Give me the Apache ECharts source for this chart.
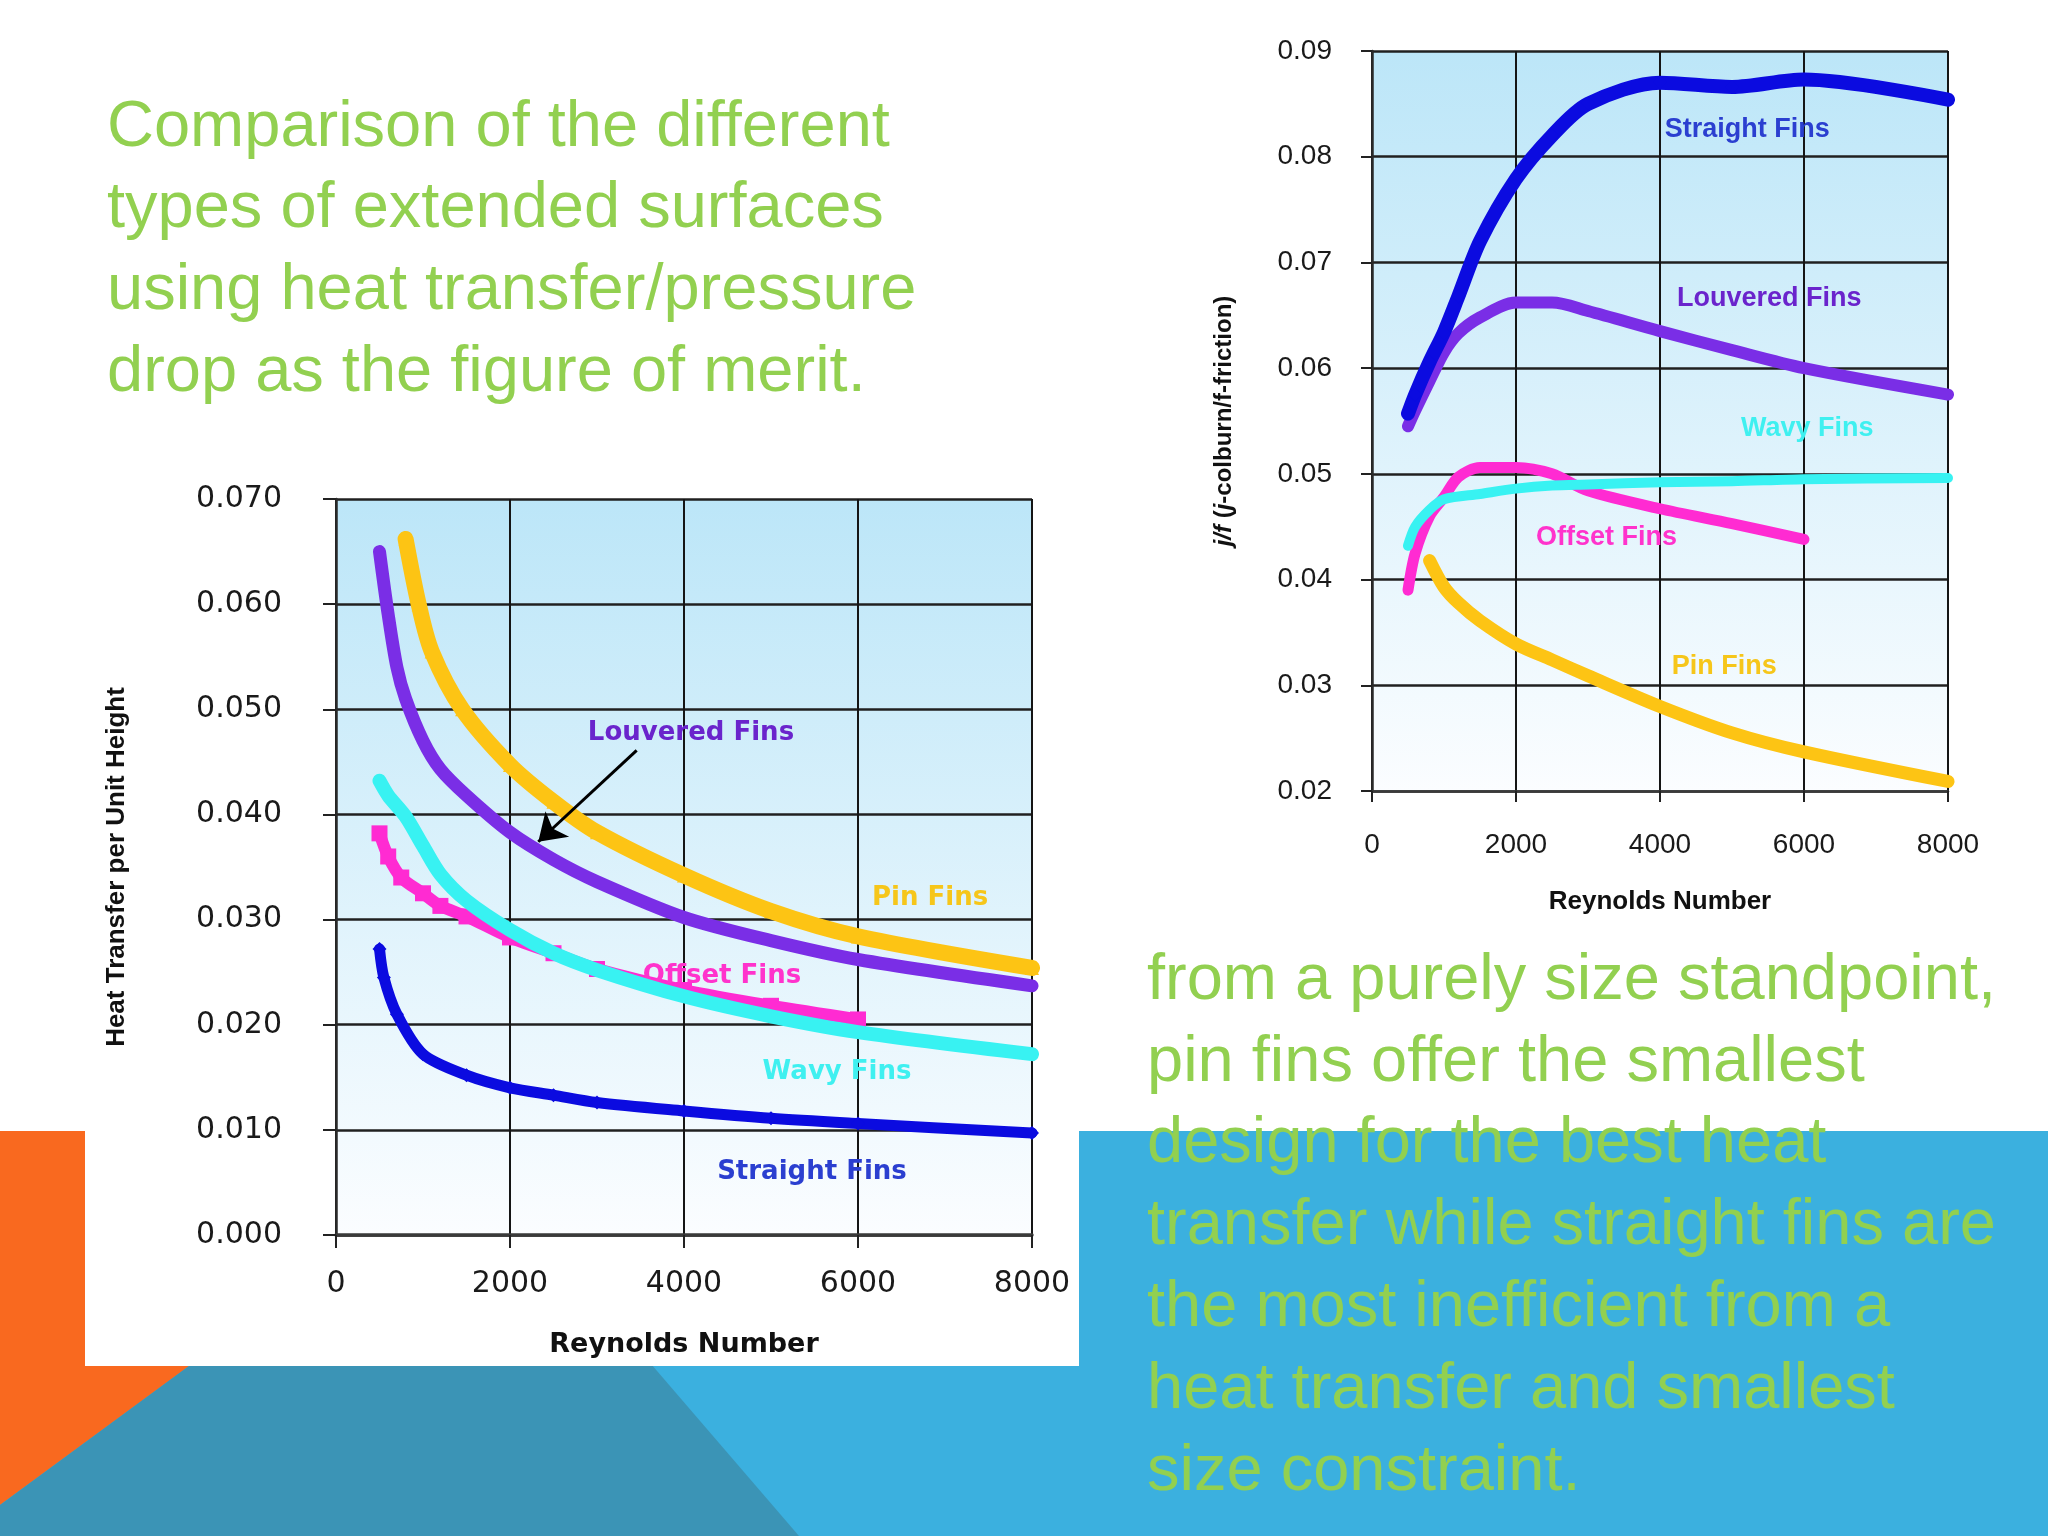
<!DOCTYPE html>
<html>
<head>
<meta charset="utf-8">
<script src="https://cdn.jsdelivr.net/npm/echarts@6/dist/echarts.min.js"></script>
<style>
html,body{margin:0;padding:0;background:#ffffff;}
#chart{width:2048px;height:1536px;}
</style>
</head>
<body>
<div id="chart"></div>
<script>
// ---------- DATA ----------
const reynoldsTicks = [0, 2000, 4000, 6000, 8000];
const leftYTicks = [0, 0.01, 0.02, 0.03, 0.04, 0.05, 0.06, 0.07];
const rightYTicks = [0.02, 0.03, 0.04, 0.05, 0.06, 0.07, 0.08, 0.09];
const seriesNames = ['Straight Fins', 'Louvered Fins', 'Wavy Fins', 'Offset Fins', 'Pin Fins'];

// Left chart: Heat Transfer per Unit Height vs Reynolds Number
const htStraightX = [500, 550, 700, 1000, 1500, 2000, 2500, 3000, 4000, 5000, 6000, 8000];
const htStraightY = [0.0272, 0.0245, 0.0210, 0.0172, 0.0152, 0.0140, 0.0133, 0.0126, 0.0118, 0.0111, 0.0106, 0.0097];
const htLouveredX = [500, 600, 700, 800, 1000, 1200, 1500, 2000, 2500, 3000, 4000, 5000, 6000, 8000];
const htLouveredY = [0.0650, 0.0590, 0.0540, 0.0510, 0.0470, 0.0443, 0.0418, 0.0383, 0.0357, 0.0336, 0.0302, 0.0280, 0.0262, 0.0237];
const htWavyX = [500, 600, 800, 1000, 1200, 1500, 2000, 2500, 3000, 4000, 5000, 6000, 8000];
const htWavyY = [0.0432, 0.0418, 0.0398, 0.0370, 0.0343, 0.0318, 0.0290, 0.0268, 0.0252, 0.0227, 0.0208, 0.0193, 0.0172];
const htOffsetX = [500, 600, 750, 1000, 1200, 1500, 2000, 2500, 3000, 4000, 5000, 6000];
const htOffsetY = [0.0382, 0.0360, 0.0340, 0.0325, 0.0313, 0.0303, 0.0283, 0.0268, 0.0253, 0.0233, 0.0218, 0.0205];
const htPinX = [800, 950, 1100, 1450, 2000, 2500, 3000, 4000, 5000, 6000, 8000];
const htPinY = [0.0662, 0.0600, 0.0555, 0.0500, 0.0447, 0.0412, 0.0383, 0.0342, 0.0308, 0.0284, 0.0254];

// Right chart: j/f vs Reynolds Number
const jfStraightX = [500, 600, 800, 1000, 1200, 1500, 2000, 2500, 3000, 4000, 5000, 6000, 8000];
const jfStraightY = [0.0557, 0.0575, 0.0606, 0.0634, 0.0668, 0.0720, 0.0779, 0.0820, 0.0850, 0.0870, 0.0866, 0.0873, 0.0854];
const jfLouveredX = [500, 600, 800, 1000, 1200, 1500, 2000, 2500, 3000, 4000, 5000, 6000, 8000];
const jfLouveredY = [0.0545, 0.0560, 0.0588, 0.0615, 0.0633, 0.0648, 0.0662, 0.0662, 0.0654, 0.0635, 0.0617, 0.0600, 0.0575];
const jfWavyX = [500, 600, 800, 1000, 1500, 2000, 2500, 3000, 4000, 5000, 6000, 8000];
const jfWavyY = [0.0432, 0.0450, 0.0466, 0.0476, 0.0481, 0.0486, 0.0489, 0.0490, 0.0492, 0.0493, 0.0495, 0.0496];
const jfOffsetX = [500, 600, 800, 1000, 1200, 1500, 2000, 2500, 3000, 4000, 5000, 6000];
const jfOffsetY = [0.0390, 0.0425, 0.0460, 0.0478, 0.0497, 0.0506, 0.0506, 0.0500, 0.0484, 0.0467, 0.0453, 0.0438];
const jfPinX = [800, 1000, 1200, 1500, 2000, 2500, 3000, 4000, 5000, 6000, 8000];
const jfPinY = [0.0418, 0.0393, 0.0378, 0.0361, 0.0339, 0.0324, 0.0309, 0.0280, 0.0255, 0.0237, 0.0209];

const titleText = ['Comparison of the different', 'types of extended surfaces', 'using heat transfer/pressure', 'drop as the figure of merit.'];
const noteText = ['from a purely size standpoint,', 'pin fins offer the smallest', 'design for the best heat', 'transfer while straight fins are', 'the most inefficient from a', 'heat transfer and smallest', 'size constraint.'];

// ---------- HELPERS ----------
function pairs(xs, ys) { return xs.map((x, i) => [x, ys[i]]); }
const COL = {
  straight: '#0b0be0', louvered: '#7a2ee6', wavy: '#38f2f2', offset: '#ff2bd2', pin: '#fdc414'
};
const LBL = {
  straight: '#2b3fd0', louvered: '#6a24cc', wavy: '#3ff0f0', offset: '#ff33cc', pin: '#f6c61a'
};
const GREEN = '#92d050';

function plotBg() {
  return { type: 'linear', x: 0, y: 0, x2: 0, y2: 1,
    colorStops: [{ offset: 0, color: '#bce6f8' }, { offset: 1, color: '#fbfdff' }] };
}

function makeLine(name, xs, ys, color, width, idx, symbol, symSize, z, labelCfg) {
  const s = {
    name: name, type: 'line', xAxisIndex: idx, yAxisIndex: idx,
    data: pairs(xs, ys), smooth: 0.3, z: z,
    lineStyle: { color: color, width: width, cap: 'round', join: 'round' },
    itemStyle: { color: color },
    symbol: symbol || 'none', symbolSize: symSize || 0, showSymbol: !!symbol,
    emphasis: { disabled: true }, silent: true
  };
  if (labelCfg) {
    s.markPoint = {
      symbol: 'circle', symbolSize: 0, silent: true,
      label: {
        show: true, position: 'inside', formatter: name, color: labelCfg.color,
        fontFamily: labelCfg.font, fontWeight: 'bold', fontSize: labelCfg.size
      },
      data: [{ coord: labelCfg.coord }]
    };
  }
  return s;
}

const leftFont = 'DejaVu Sans';
const rightFont = 'Liberation Sans';

function xAxisCfg(idx, font, size, margin, nameSize, nameGap, tickLen, lineW) {
  return {
    type: 'value', gridIndex: idx,
    min: reynoldsTicks[0], max: reynoldsTicks[reynoldsTicks.length - 1],
    interval: reynoldsTicks[1] - reynoldsTicks[0],
    name: 'Reynolds Number', nameLocation: 'middle', nameGap: nameGap,
    nameTextStyle: { fontFamily: font, fontWeight: 'bold', fontSize: nameSize, color: '#111' },
    axisLine: { show: true, onZero: false, lineStyle: { color: '#3a3a3a', width: lineW } },
    axisTick: { show: true, inside: false, length: tickLen, lineStyle: { color: '#222', width: 2 } },
    axisLabel: { fontFamily: font, fontSize: size, color: '#1a1a1a', margin: margin,
      formatter: v => String(v) },
    splitLine: { show: true, lineStyle: { color: '#151515', width: 2 } }
  };
}
function yAxisCfg(idx, ticks, digits, font, size, margin, name, nameSize, nameGap, tickLen, nameRich) {
  const c = {
    type: 'value', gridIndex: idx,
    min: ticks[0], max: ticks[ticks.length - 1],
    interval: +(ticks[1] - ticks[0]).toFixed(4),
    name: name, nameLocation: 'middle', nameGap: nameGap, nameRotate: 90,
    nameTextStyle: { fontFamily: rightFont, fontWeight: 'bold', fontSize: nameSize, color: '#111' },
    axisLine: { show: true, onZero: false, lineStyle: { color: '#2a2a2a', width: 2.5 } },
    axisTick: { show: true, inside: false, length: tickLen, lineStyle: { color: '#222', width: 2 } },
    axisLabel: { fontFamily: font, fontSize: size, color: '#1a1a1a', margin: margin,
      formatter: v => v.toFixed(digits) },
    splitLine: { show: true, lineStyle: { color: '#202020', width: 2.5 } }
  };
  if (nameRich) c.nameTextStyle.rich = nameRich;
  return c;
}

const chart = echarts.init(document.getElementById('chart'), null, { renderer: 'canvas' });

const option = {
  animation: false,
  backgroundColor: '#ffffff',
  graphic: [
    // slide background shapes
    { type: 'rect', z: -20, shape: { x: 0, y: 1131, width: 2048, height: 405 }, style: { fill: '#3bb0df' } },
    { type: 'polygon', z: -19, shape: { points: [[0, 1131], [509, 1131], [0, 1505]] }, style: { fill: '#f9691f' } },
    { type: 'polygon', z: -18, shape: { points: [[473, 1157], [0, 1505], [0, 1536], [799, 1536]] }, style: { fill: '#3b94b6' } },
    { type: 'rect', z: -17, shape: { x: 85, y: 430, width: 994, height: 936 }, style: { fill: '#ffffff' } },
    // slide texts
    { type: 'text', z: 50, left: 107, top: 87,
      style: { text: titleText.join('\n'), fill: GREEN, font: '65px "Liberation Sans", Arial, sans-serif', lineHeight: 81.7 } },
    { type: 'text', z: 50, left: 1147, top: 940,
      style: { text: noteText.join('\n'), fill: GREEN, font: '65px "Liberation Sans", Arial, sans-serif', lineHeight: 81.8 } }
  ],
  grid: [
    { left: 336, top: 499, width: 696, height: 736, show: true, backgroundColor: plotBg(), borderWidth: 0, containLabel: false },
    { left: 1372, top: 51, width: 576, height: 740, show: true, backgroundColor: plotBg(), borderWidth: 0, containLabel: false }
  ],
  xAxis: [
    xAxisCfg(0, leftFont, 30, 34, 27, 96, 13, 3.5),
    xAxisCfg(1, rightFont, 28, 40, 26, 98, 11, 2.5)
  ],
  yAxis: [
    yAxisCfg(0, leftYTicks, 3, leftFont, 30, 54, 'Heat Transfer per Unit Height', 26, 206, 13),
    yAxisCfg(1, rightYTicks, 2, rightFont, 28, 40, '{i|j/f} ({j|j}-colburn/f-friction)', 24, 136, 11,
      { i: { fontStyle: 'italic', fontWeight: 'bold', fontFamily: rightFont, fontSize: 24, color: '#111' },
        j: { fontStyle: 'italic', fontWeight: 'bold', fontFamily: rightFont, fontSize: 24, color: '#111' } })
  ],
  series: [
    // ---- left chart ----
    makeLine(seriesNames[0], htStraightX, htStraightY, COL.straight, 11, 0, 'diamond', 14, 3,
      { coord: [5471, 0.0060], color: LBL.straight, font: leftFont, size: 26 }),
    makeLine(seriesNames[3], htOffsetX, htOffsetY, COL.offset, 12, 0, 'rect', 16, 4,
      { coord: [4437, 0.0246], color: LBL.offset, font: leftFont, size: 26 }),
    makeLine(seriesNames[2], htWavyX, htWavyY, COL.wavy, 14, 0, null, 0, 5,
      { coord: [5759, 0.0155], color: LBL.wavy, font: leftFont, size: 26 }),
    makeLine(seriesNames[1], htLouveredX, htLouveredY, COL.louvered, 13, 0, null, 0, 6,
      { coord: [4080, 0.0477], color: LBL.louvered, font: leftFont, size: 26 }),
    makeLine(seriesNames[4], htPinX, htPinY, COL.pin, 16, 0, 'triangle', 14, 7,
      { coord: [6828, 0.0320], color: LBL.pin, font: leftFont, size: 26 }),
    // annotation arrow pointing to the Louvered Fins curve
    {
      type: 'lines', coordinateSystem: 'cartesian2d', xAxisIndex: 0, yAxisIndex: 0,
      z: 20, silent: true, symbol: ['none', 'arrow'], symbolSize: 26,
      lineStyle: { color: '#000000', width: 3, opacity: 1 },
      data: [{ coords: [[3456, 0.0461], [2325, 0.0374]] }]
    },
    // ---- right chart ----
    makeLine(seriesNames[4], jfPinX, jfPinY, COL.pin, 13, 1, null, 0, 3,
      { coord: [4894, 0.0318], color: LBL.pin, font: rightFont, size: 27 }),
    makeLine(seriesNames[3], jfOffsetX, jfOffsetY, COL.offset, 11, 1, null, 0, 4,
      { coord: [3258, 0.0440], color: LBL.offset, font: rightFont, size: 27 }),
    makeLine(seriesNames[2], jfWavyX, jfWavyY, COL.wavy, 10, 1, null, 0, 5,
      { coord: [6046, 0.0543], color: LBL.wavy, font: rightFont, size: 27 }),
    makeLine(seriesNames[1], jfLouveredX, jfLouveredY, COL.louvered, 12, 1, null, 0, 6,
      { coord: [5518, 0.0666], color: LBL.louvered, font: rightFont, size: 27 }),
    makeLine(seriesNames[0], jfStraightX, jfStraightY, COL.straight, 14, 1, 'diamond', 14, 7,
      { coord: [5213, 0.0826], color: LBL.straight, font: rightFont, size: 27 })
  ]
};
chart.setOption(option);
</script>
</body>
</html>
